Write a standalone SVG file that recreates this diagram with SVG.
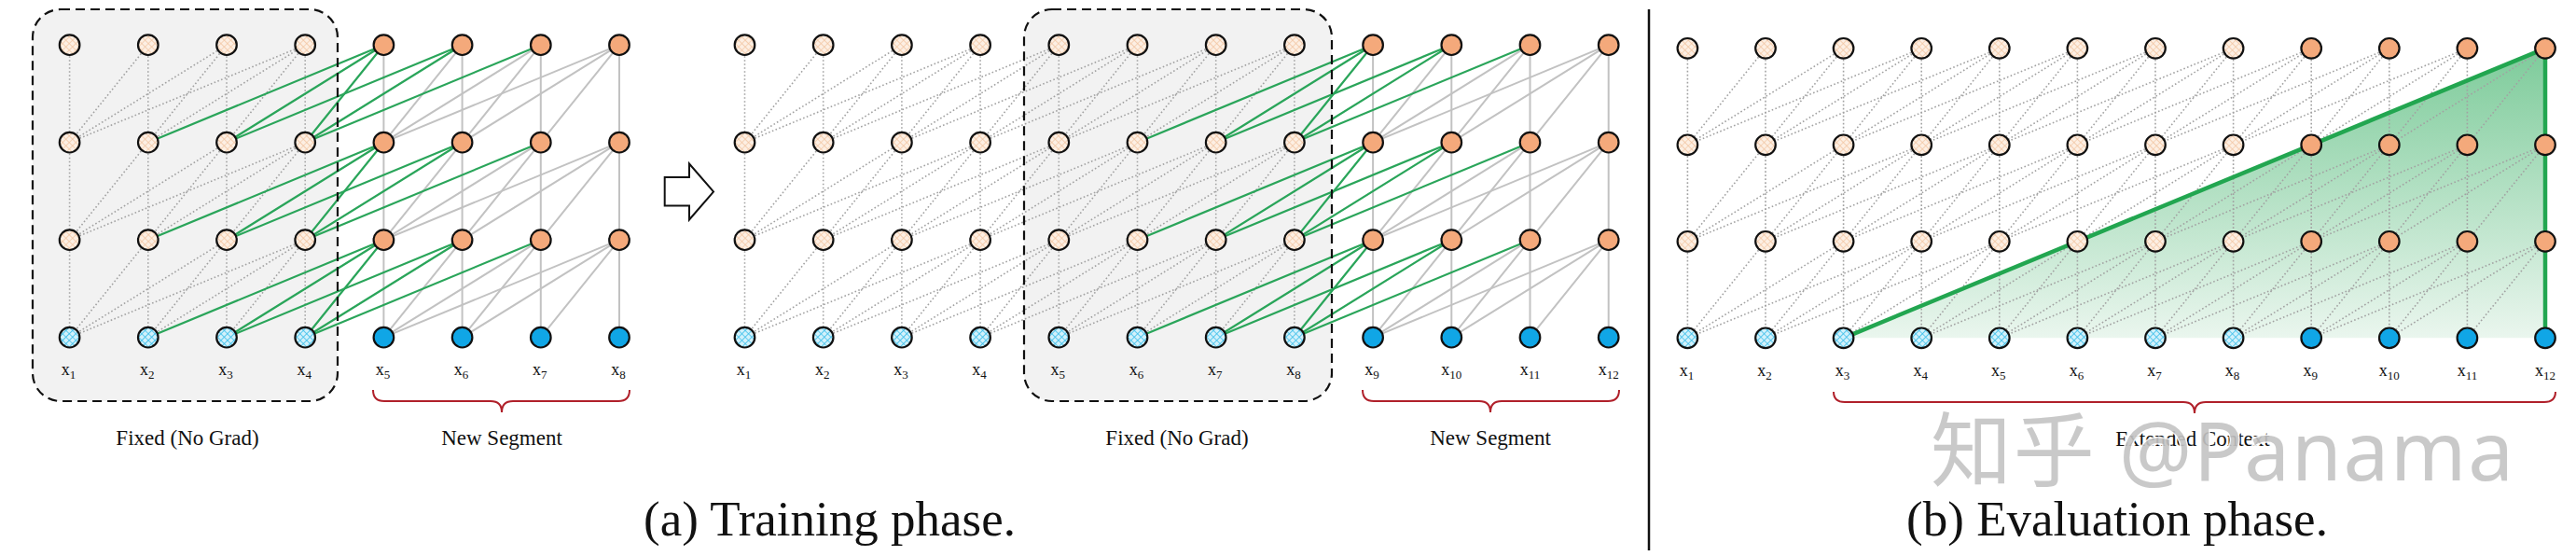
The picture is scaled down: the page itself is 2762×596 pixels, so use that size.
<svg xmlns="http://www.w3.org/2000/svg" width="2762" height="596" viewBox="0 0 2762 596">
<style>
.dot{fill:none;stroke:#a2a2a2;stroke-width:1.6;stroke-dasharray:1.6 2.4}
.gry{fill:none;stroke:#c2c2c2;stroke-width:2}
.grn{fill:none;stroke:#2aa55a;stroke-width:2.2}
circle{stroke:#111;stroke-width:2.2}
.oh{fill:url(#pO)}
.oi{fill:url(#pB)}
.nh{fill:#f4a97b}
.ni{fill:#10a6e6}
.lbl{font-family:"Liberation Serif","DejaVu Serif",serif;font-size:18px;fill:#111;text-anchor:middle}
.sub{font-size:13px}
.cap{font-family:"Liberation Serif","DejaVu Serif",serif;font-size:23px;fill:#111;text-anchor:middle}
.big{font-family:"Liberation Serif","DejaVu Serif",serif;font-size:53px;fill:#111;text-anchor:middle}
.brace{fill:none;stroke:#b0202a;stroke-width:2}
.fix{fill:#f2f2f2;stroke:none}
.fixb{fill:none;stroke:#111;stroke-width:2.2;stroke-dasharray:10 6}
</style>
<defs>
<pattern id="pO" width="5" height="5" patternUnits="userSpaceOnUse" patternTransform="rotate(45)"><rect width="5" height="5" fill="#fdefe3"/><path d="M0 0H5M0 0V5" stroke="#f2c4a0" stroke-width="1.3"/></pattern>
<pattern id="pB" width="5" height="5" patternUnits="userSpaceOnUse" patternTransform="rotate(45)"><rect width="5" height="5" fill="#d2f1fb"/><path d="M0 0H5M0 0V5" stroke="#3cbfea" stroke-width="1.7"/></pattern>
<linearGradient id="tg" x1="0" y1="0" x2="0" y2="1"><stop offset="0" stop-color="#7dcb9a"/><stop offset="1" stop-color="#eaf6ee"/></linearGradient>
<path id="aV" d="M0 0V104.5"/>
<path id="aF2" d="M0 0V104.5M0 0L-84.2 104.5"/>
<path id="aF3" d="M0 0V104.5M0 0L-84.2 104.5M0 0L-168.4 104.5"/>
<path id="aF4" d="M0 0V104.5M0 0L-84.2 104.5M0 0L-168.4 104.5M0 0L-252.6 104.5"/>
<path id="aG1" d="M0 0L-84.2 104.5M0 0L-168.4 104.5M0 0L-252.6 104.5"/>
<path id="aG2" d="M0 0L-168.4 104.5M0 0L-252.6 104.5"/>
<path id="aG3" d="M0 0L-252.6 104.5"/>
<path id="bV" d="M0 0V103.5"/>
<path id="bF2" d="M0 0V103.5M0 0L-83.6 103.5"/>
<path id="bF3" d="M0 0V103.5M0 0L-83.6 103.5M0 0L-167.2 103.5"/>
<path id="bF4" d="M0 0V103.5M0 0L-83.6 103.5M0 0L-167.2 103.5M0 0L-250.8 103.5"/>
<g id="a1row">
<use href="#aV" x="74.6" class="dot"/><use href="#aF2" x="158.8" class="dot"/><use href="#aF3" x="243" class="dot"/><use href="#aF4" x="327.2" class="dot"/>
<use href="#aV" x="411.4" class="gry"/><use href="#aF2" x="495.6" class="gry"/><use href="#aF3" x="579.8" class="gry"/><use href="#aF4" x="664" class="gry"/>
<use href="#aG1" x="411.4" class="grn"/><use href="#aG2" x="495.6" class="grn"/><use href="#aG3" x="579.8" class="grn"/>
</g>
<g id="a2row">
<use href="#aV" x="798.5" class="dot"/><use href="#aF2" x="882.7" class="dot"/><use href="#aF3" x="966.9" class="dot"/><use href="#aF4" x="1051.1" class="dot"/>
<use href="#aF4" x="1135.3" class="dot"/><use href="#aF4" x="1219.5" class="dot"/><use href="#aF4" x="1303.7" class="dot"/><use href="#aF4" x="1387.9" class="dot"/>
<use href="#aV" x="1472.1" class="gry"/><use href="#aF2" x="1556.3" class="gry"/><use href="#aF3" x="1640.5" class="gry"/><use href="#aF4" x="1724.7" class="gry"/>
<use href="#aG1" x="1472.1" class="grn"/><use href="#aG2" x="1556.3" class="grn"/><use href="#aG3" x="1640.5" class="grn"/>
</g>
<g id="brow" class="dot">
<use href="#bV" x="1809.4"/><use href="#bF2" x="1893"/><use href="#bF3" x="1976.6"/><use href="#bF4" x="2060.2"/>
<use href="#bF4" x="2143.8"/><use href="#bF4" x="2227.4"/><use href="#bF4" x="2311"/><use href="#bF4" x="2394.6"/>
<use href="#bF4" x="2478.2"/><use href="#bF4" x="2561.8"/><use href="#bF4" x="2645.4"/><use href="#bF4" x="2729"/>
</g>
</defs>
<rect width="2762" height="596" fill="#fff"/>
<g id="fixed-area-a1"><rect class="fix" x="35" y="10" width="327" height="420" rx="30"/></g>
<g id="fixed-area-a2"><rect class="fix" x="1098" y="10" width="330" height="420" rx="30"/></g>
<g id="extended-context-area"><polygon points="1976.6,362.3 2729,51.8 2729,362.3" fill="url(#tg)"/></g>
<g id="connectors">
<use href="#a1row" y="48.2"/><use href="#a1row" y="152.7"/><use href="#a1row" y="257.2"/>
<use href="#a2row" y="48.2"/><use href="#a2row" y="152.7"/><use href="#a2row" y="257.2"/>
<use href="#brow" y="51.8"/><use href="#brow" y="155.3"/><use href="#brow" y="258.8"/>
<path d="M1976.6 362.3L2729 51.8V362.3" fill="none" stroke="#22a650" stroke-width="4.5" stroke-linejoin="round"/>
</g>
<g id="fixed-border-a1"><rect class="fixb" x="35" y="10" width="327" height="420" rx="30"/></g>
<g id="fixed-border-a2"><rect class="fixb" x="1098" y="10" width="330" height="420" rx="30"/></g>
<g id="nodes-a1">
<g id="a1-x1-3"><circle class="oh" cx="74.6" cy="48.2" r="10.8"/></g>
<g id="a1-x2-3"><circle class="oh" cx="158.8" cy="48.2" r="10.8"/></g>
<g id="a1-x3-3"><circle class="oh" cx="243" cy="48.2" r="10.8"/></g>
<g id="a1-x4-3"><circle class="oh" cx="327.2" cy="48.2" r="10.8"/></g>
<g id="a1-x5-3"><circle class="nh" cx="411.4" cy="48.2" r="10.8"/></g>
<g id="a1-x6-3"><circle class="nh" cx="495.6" cy="48.2" r="10.8"/></g>
<g id="a1-x7-3"><circle class="nh" cx="579.8" cy="48.2" r="10.8"/></g>
<g id="a1-x8-3"><circle class="nh" cx="664" cy="48.2" r="10.8"/></g>
<g id="a1-x1-2"><circle class="oh" cx="74.6" cy="152.7" r="10.8"/></g>
<g id="a1-x2-2"><circle class="oh" cx="158.8" cy="152.7" r="10.8"/></g>
<g id="a1-x3-2"><circle class="oh" cx="243" cy="152.7" r="10.8"/></g>
<g id="a1-x4-2"><circle class="oh" cx="327.2" cy="152.7" r="10.8"/></g>
<g id="a1-x5-2"><circle class="nh" cx="411.4" cy="152.7" r="10.8"/></g>
<g id="a1-x6-2"><circle class="nh" cx="495.6" cy="152.7" r="10.8"/></g>
<g id="a1-x7-2"><circle class="nh" cx="579.8" cy="152.7" r="10.8"/></g>
<g id="a1-x8-2"><circle class="nh" cx="664" cy="152.7" r="10.8"/></g>
<g id="a1-x1-1"><circle class="oh" cx="74.6" cy="257.2" r="10.8"/></g>
<g id="a1-x2-1"><circle class="oh" cx="158.8" cy="257.2" r="10.8"/></g>
<g id="a1-x3-1"><circle class="oh" cx="243" cy="257.2" r="10.8"/></g>
<g id="a1-x4-1"><circle class="oh" cx="327.2" cy="257.2" r="10.8"/></g>
<g id="a1-x5-1"><circle class="nh" cx="411.4" cy="257.2" r="10.8"/></g>
<g id="a1-x6-1"><circle class="nh" cx="495.6" cy="257.2" r="10.8"/></g>
<g id="a1-x7-1"><circle class="nh" cx="579.8" cy="257.2" r="10.8"/></g>
<g id="a1-x8-1"><circle class="nh" cx="664" cy="257.2" r="10.8"/></g>
<g id="a1-x1-0"><circle class="oi" cx="74.6" cy="361.7" r="10.8"/></g>
<g id="a1-x2-0"><circle class="oi" cx="158.8" cy="361.7" r="10.8"/></g>
<g id="a1-x3-0"><circle class="oi" cx="243" cy="361.7" r="10.8"/></g>
<g id="a1-x4-0"><circle class="oi" cx="327.2" cy="361.7" r="10.8"/></g>
<g id="a1-x5-0"><circle class="ni" cx="411.4" cy="361.7" r="10.8"/></g>
<g id="a1-x6-0"><circle class="ni" cx="495.6" cy="361.7" r="10.8"/></g>
<g id="a1-x7-0"><circle class="ni" cx="579.8" cy="361.7" r="10.8"/></g>
<g id="a1-x8-0"><circle class="ni" cx="664" cy="361.7" r="10.8"/></g>
</g>
<g id="nodes-a2">
<g id="a2-x1-3"><circle class="oh" cx="798.5" cy="48.2" r="10.8"/></g>
<g id="a2-x2-3"><circle class="oh" cx="882.7" cy="48.2" r="10.8"/></g>
<g id="a2-x3-3"><circle class="oh" cx="966.9" cy="48.2" r="10.8"/></g>
<g id="a2-x4-3"><circle class="oh" cx="1051.1" cy="48.2" r="10.8"/></g>
<g id="a2-x5-3"><circle class="oh" cx="1135.3" cy="48.2" r="10.8"/></g>
<g id="a2-x6-3"><circle class="oh" cx="1219.5" cy="48.2" r="10.8"/></g>
<g id="a2-x7-3"><circle class="oh" cx="1303.7" cy="48.2" r="10.8"/></g>
<g id="a2-x8-3"><circle class="oh" cx="1387.9" cy="48.2" r="10.8"/></g>
<g id="a2-x9-3"><circle class="nh" cx="1472.1" cy="48.2" r="10.8"/></g>
<g id="a2-x10-3"><circle class="nh" cx="1556.3" cy="48.2" r="10.8"/></g>
<g id="a2-x11-3"><circle class="nh" cx="1640.5" cy="48.2" r="10.8"/></g>
<g id="a2-x12-3"><circle class="nh" cx="1724.7" cy="48.2" r="10.8"/></g>
<g id="a2-x1-2"><circle class="oh" cx="798.5" cy="152.7" r="10.8"/></g>
<g id="a2-x2-2"><circle class="oh" cx="882.7" cy="152.7" r="10.8"/></g>
<g id="a2-x3-2"><circle class="oh" cx="966.9" cy="152.7" r="10.8"/></g>
<g id="a2-x4-2"><circle class="oh" cx="1051.1" cy="152.7" r="10.8"/></g>
<g id="a2-x5-2"><circle class="oh" cx="1135.3" cy="152.7" r="10.8"/></g>
<g id="a2-x6-2"><circle class="oh" cx="1219.5" cy="152.7" r="10.8"/></g>
<g id="a2-x7-2"><circle class="oh" cx="1303.7" cy="152.7" r="10.8"/></g>
<g id="a2-x8-2"><circle class="oh" cx="1387.9" cy="152.7" r="10.8"/></g>
<g id="a2-x9-2"><circle class="nh" cx="1472.1" cy="152.7" r="10.8"/></g>
<g id="a2-x10-2"><circle class="nh" cx="1556.3" cy="152.7" r="10.8"/></g>
<g id="a2-x11-2"><circle class="nh" cx="1640.5" cy="152.7" r="10.8"/></g>
<g id="a2-x12-2"><circle class="nh" cx="1724.7" cy="152.7" r="10.8"/></g>
<g id="a2-x1-1"><circle class="oh" cx="798.5" cy="257.2" r="10.8"/></g>
<g id="a2-x2-1"><circle class="oh" cx="882.7" cy="257.2" r="10.8"/></g>
<g id="a2-x3-1"><circle class="oh" cx="966.9" cy="257.2" r="10.8"/></g>
<g id="a2-x4-1"><circle class="oh" cx="1051.1" cy="257.2" r="10.8"/></g>
<g id="a2-x5-1"><circle class="oh" cx="1135.3" cy="257.2" r="10.8"/></g>
<g id="a2-x6-1"><circle class="oh" cx="1219.5" cy="257.2" r="10.8"/></g>
<g id="a2-x7-1"><circle class="oh" cx="1303.7" cy="257.2" r="10.8"/></g>
<g id="a2-x8-1"><circle class="oh" cx="1387.9" cy="257.2" r="10.8"/></g>
<g id="a2-x9-1"><circle class="nh" cx="1472.1" cy="257.2" r="10.8"/></g>
<g id="a2-x10-1"><circle class="nh" cx="1556.3" cy="257.2" r="10.8"/></g>
<g id="a2-x11-1"><circle class="nh" cx="1640.5" cy="257.2" r="10.8"/></g>
<g id="a2-x12-1"><circle class="nh" cx="1724.7" cy="257.2" r="10.8"/></g>
<g id="a2-x1-0"><circle class="oi" cx="798.5" cy="361.7" r="10.8"/></g>
<g id="a2-x2-0"><circle class="oi" cx="882.7" cy="361.7" r="10.8"/></g>
<g id="a2-x3-0"><circle class="oi" cx="966.9" cy="361.7" r="10.8"/></g>
<g id="a2-x4-0"><circle class="oi" cx="1051.1" cy="361.7" r="10.8"/></g>
<g id="a2-x5-0"><circle class="oi" cx="1135.3" cy="361.7" r="10.8"/></g>
<g id="a2-x6-0"><circle class="oi" cx="1219.5" cy="361.7" r="10.8"/></g>
<g id="a2-x7-0"><circle class="oi" cx="1303.7" cy="361.7" r="10.8"/></g>
<g id="a2-x8-0"><circle class="oi" cx="1387.9" cy="361.7" r="10.8"/></g>
<g id="a2-x9-0"><circle class="ni" cx="1472.1" cy="361.7" r="10.8"/></g>
<g id="a2-x10-0"><circle class="ni" cx="1556.3" cy="361.7" r="10.8"/></g>
<g id="a2-x11-0"><circle class="ni" cx="1640.5" cy="361.7" r="10.8"/></g>
<g id="a2-x12-0"><circle class="ni" cx="1724.7" cy="361.7" r="10.8"/></g>
</g>
<g id="nodes-b">
<g id="b-x1-3"><circle class="oh" cx="1809.4" cy="51.8" r="10.8"/></g>
<g id="b-x2-3"><circle class="oh" cx="1893" cy="51.8" r="10.8"/></g>
<g id="b-x3-3"><circle class="oh" cx="1976.6" cy="51.8" r="10.8"/></g>
<g id="b-x4-3"><circle class="oh" cx="2060.2" cy="51.8" r="10.8"/></g>
<g id="b-x5-3"><circle class="oh" cx="2143.8" cy="51.8" r="10.8"/></g>
<g id="b-x6-3"><circle class="oh" cx="2227.4" cy="51.8" r="10.8"/></g>
<g id="b-x7-3"><circle class="oh" cx="2311" cy="51.8" r="10.8"/></g>
<g id="b-x8-3"><circle class="oh" cx="2394.6" cy="51.8" r="10.8"/></g>
<g id="b-x9-3"><circle class="nh" cx="2478.2" cy="51.8" r="10.8"/></g>
<g id="b-x10-3"><circle class="nh" cx="2561.8" cy="51.8" r="10.8"/></g>
<g id="b-x11-3"><circle class="nh" cx="2645.4" cy="51.8" r="10.8"/></g>
<g id="b-x12-3"><circle class="nh" cx="2729" cy="51.8" r="10.8"/></g>
<g id="b-x1-2"><circle class="oh" cx="1809.4" cy="155.3" r="10.8"/></g>
<g id="b-x2-2"><circle class="oh" cx="1893" cy="155.3" r="10.8"/></g>
<g id="b-x3-2"><circle class="oh" cx="1976.6" cy="155.3" r="10.8"/></g>
<g id="b-x4-2"><circle class="oh" cx="2060.2" cy="155.3" r="10.8"/></g>
<g id="b-x5-2"><circle class="oh" cx="2143.8" cy="155.3" r="10.8"/></g>
<g id="b-x6-2"><circle class="oh" cx="2227.4" cy="155.3" r="10.8"/></g>
<g id="b-x7-2"><circle class="oh" cx="2311" cy="155.3" r="10.8"/></g>
<g id="b-x8-2"><circle class="oh" cx="2394.6" cy="155.3" r="10.8"/></g>
<g id="b-x9-2"><circle class="nh" cx="2478.2" cy="155.3" r="10.8"/></g>
<g id="b-x10-2"><circle class="nh" cx="2561.8" cy="155.3" r="10.8"/></g>
<g id="b-x11-2"><circle class="nh" cx="2645.4" cy="155.3" r="10.8"/></g>
<g id="b-x12-2"><circle class="nh" cx="2729" cy="155.3" r="10.8"/></g>
<g id="b-x1-1"><circle class="oh" cx="1809.4" cy="258.8" r="10.8"/></g>
<g id="b-x2-1"><circle class="oh" cx="1893" cy="258.8" r="10.8"/></g>
<g id="b-x3-1"><circle class="oh" cx="1976.6" cy="258.8" r="10.8"/></g>
<g id="b-x4-1"><circle class="oh" cx="2060.2" cy="258.8" r="10.8"/></g>
<g id="b-x5-1"><circle class="oh" cx="2143.8" cy="258.8" r="10.8"/></g>
<g id="b-x6-1"><circle class="oh" cx="2227.4" cy="258.8" r="10.8"/></g>
<g id="b-x7-1"><circle class="oh" cx="2311" cy="258.8" r="10.8"/></g>
<g id="b-x8-1"><circle class="oh" cx="2394.6" cy="258.8" r="10.8"/></g>
<g id="b-x9-1"><circle class="nh" cx="2478.2" cy="258.8" r="10.8"/></g>
<g id="b-x10-1"><circle class="nh" cx="2561.8" cy="258.8" r="10.8"/></g>
<g id="b-x11-1"><circle class="nh" cx="2645.4" cy="258.8" r="10.8"/></g>
<g id="b-x12-1"><circle class="nh" cx="2729" cy="258.8" r="10.8"/></g>
<g id="b-x1-0"><circle class="oi" cx="1809.4" cy="362.3" r="10.8"/></g>
<g id="b-x2-0"><circle class="oi" cx="1893" cy="362.3" r="10.8"/></g>
<g id="b-x3-0"><circle class="oi" cx="1976.6" cy="362.3" r="10.8"/></g>
<g id="b-x4-0"><circle class="oi" cx="2060.2" cy="362.3" r="10.8"/></g>
<g id="b-x5-0"><circle class="oi" cx="2143.8" cy="362.3" r="10.8"/></g>
<g id="b-x6-0"><circle class="oi" cx="2227.4" cy="362.3" r="10.8"/></g>
<g id="b-x7-0"><circle class="oi" cx="2311" cy="362.3" r="10.8"/></g>
<g id="b-x8-0"><circle class="oi" cx="2394.6" cy="362.3" r="10.8"/></g>
<g id="b-x9-0"><circle class="ni" cx="2478.2" cy="362.3" r="10.8"/></g>
<g id="b-x10-0"><circle class="ni" cx="2561.8" cy="362.3" r="10.8"/></g>
<g id="b-x11-0"><circle class="ni" cx="2645.4" cy="362.3" r="10.8"/></g>
<g id="b-x12-0"><circle class="ni" cx="2729" cy="362.3" r="10.8"/></g>
</g>
<g id="labels-a1" class="lbl">
<text x="73.6" y="402">x<tspan class="sub" dy="4">1</tspan></text>
<text x="157.8" y="402">x<tspan class="sub" dy="4">2</tspan></text>
<text x="242" y="402">x<tspan class="sub" dy="4">3</tspan></text>
<text x="326.2" y="402">x<tspan class="sub" dy="4">4</tspan></text>
<text x="410.4" y="402">x<tspan class="sub" dy="4">5</tspan></text>
<text x="494.6" y="402">x<tspan class="sub" dy="4">6</tspan></text>
<text x="578.8" y="402">x<tspan class="sub" dy="4">7</tspan></text>
<text x="663" y="402">x<tspan class="sub" dy="4">8</tspan></text>
</g>
<g id="labels-a2" class="lbl">
<text x="797.5" y="402">x<tspan class="sub" dy="4">1</tspan></text>
<text x="881.7" y="402">x<tspan class="sub" dy="4">2</tspan></text>
<text x="965.9" y="402">x<tspan class="sub" dy="4">3</tspan></text>
<text x="1050.1" y="402">x<tspan class="sub" dy="4">4</tspan></text>
<text x="1134.3" y="402">x<tspan class="sub" dy="4">5</tspan></text>
<text x="1218.5" y="402">x<tspan class="sub" dy="4">6</tspan></text>
<text x="1302.7" y="402">x<tspan class="sub" dy="4">7</tspan></text>
<text x="1386.9" y="402">x<tspan class="sub" dy="4">8</tspan></text>
<text x="1471.1" y="402">x<tspan class="sub" dy="4">9</tspan></text>
<text x="1556.3" y="402">x<tspan class="sub" dy="4">10</tspan></text>
<text x="1640.5" y="402">x<tspan class="sub" dy="4">11</tspan></text>
<text x="1724.7" y="402">x<tspan class="sub" dy="4">12</tspan></text>
</g>
<g id="labels-b" class="lbl">
<text x="1808.4" y="403">x<tspan class="sub" dy="4">1</tspan></text>
<text x="1892" y="403">x<tspan class="sub" dy="4">2</tspan></text>
<text x="1975.6" y="403">x<tspan class="sub" dy="4">3</tspan></text>
<text x="2059.2" y="403">x<tspan class="sub" dy="4">4</tspan></text>
<text x="2142.8" y="403">x<tspan class="sub" dy="4">5</tspan></text>
<text x="2226.4" y="403">x<tspan class="sub" dy="4">6</tspan></text>
<text x="2310" y="403">x<tspan class="sub" dy="4">7</tspan></text>
<text x="2393.6" y="403">x<tspan class="sub" dy="4">8</tspan></text>
<text x="2477.2" y="403">x<tspan class="sub" dy="4">9</tspan></text>
<text x="2561.8" y="403">x<tspan class="sub" dy="4">10</tspan></text>
<text x="2645.4" y="403">x<tspan class="sub" dy="4">11</tspan></text>
<text x="2729" y="403">x<tspan class="sub" dy="4">12</tspan></text>
</g>
<g id="braces">
<path class="brace" d="M400 418Q400 430 412 430H526Q538 430 538 442Q538 430 550 430H663Q675 430 675 418"/>
<path class="brace" d="M1461 418Q1461 430 1473 430H1586Q1598 430 1598 442Q1598 430 1610 430H1724Q1736 430 1736 418"/>
<path class="brace" d="M1966 420Q1966 431 1978 431H2341Q2353 431 2353 443Q2353 431 2365 431H2728Q2740 431 2740 420"/>
</g>
<g id="group-labels" class="cap">
<text x="201" y="477">Fixed (No Grad)</text>
<text x="538" y="477">New Segment</text>
<text x="1262" y="477">Fixed (No Grad)</text>
<text x="1598" y="477">New Segment</text>
<text x="2351" y="478">Extended Context</text>
</g>
<g id="arrow"><polygon points="712.7,190 739,190 739,175.5 765,205.5 739,235.5 739,220.5 712.7,220.5" fill="#fff" stroke="#111" stroke-width="2" stroke-linejoin="miter"/></g>
<g id="divider"><line x1="1768" y1="10" x2="1768" y2="590" stroke="#111" stroke-width="2.5"/></g>
<g id="captions" class="big">
<text x="889.5" y="574">(a) Training phase.</text>
<text x="2270" y="574">(b) Evaluation phase.</text>
</g>
<g id="watermark"><text x="2070" y="515" textLength="625" lengthAdjust="spacing" font-family="'Noto Sans','Noto Sans CJK SC',sans-serif" font-size="87" fill="#c4c4c4" stroke="#fff" stroke-width="3" paint-order="stroke" opacity="0.9">知乎 @Panama</text></g>
</svg>
